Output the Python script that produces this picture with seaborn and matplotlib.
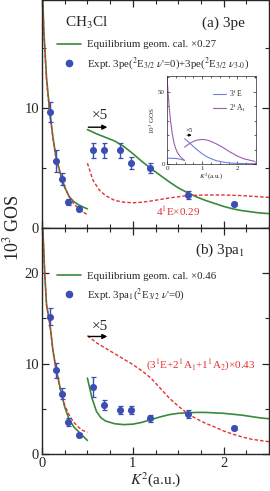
import numpy as np
import matplotlib
matplotlib.use("Agg")
import matplotlib.pyplot as plt
from matplotlib.ticker import MultipleLocator
from matplotlib.lines import Line2D
import seaborn as sns

sns.set_style("ticks")
plt.rcParams['font.family'] = ['Liberation Serif', 'DejaVu Serif']
plt.rcParams['mathtext.fontset'] = 'stix'

GREEN = '#3a8a3a'
BLUE = '#3b4fb3'
RED = '#e23232'
IBLUE = '#7080dd'
IPURP = '#9b5fae'

# ---------- panel (a) 3pe ----------
a_x = [0.084, 0.15, 0.22, 0.29, 0.41, 0.557, 0.68, 0.854, 0.98, 1.19, 1.61, 2.12]
a_y = [9.67, 5.6, 4.1, 2.2, 1.6, 6.47, 6.47, 6.47, 5.45, 5.0, 2.75, 2.0]
a_err = [0.85, 0.9, 0.5, 0.25, 0.2, 0.6, 0.6, 0.6, 0.5, 0.45, 0.35, 0.2]

a_low_x = [0.0, 0.02, 0.05, 0.084, 0.12, 0.15, 0.2, 0.25, 0.3, 0.35, 0.41, 0.45, 0.5]
a_gl_y = [21, 16.5, 12.5, 9.8, 7.6, 6.1, 4.6, 3.4, 2.6, 2.2, 1.9, 1.75, 1.6]
a_rl_y = [21, 16.3, 12.3, 9.7, 7.5, 6.0, 4.5, 3.4, 2.6, 2.0, 1.6, 1.35, 1.1]

a_gh_x = [0.5, 0.6, 0.7, 0.8, 0.9, 1.0, 1.1, 1.2, 1.3, 1.4, 1.5, 1.6, 1.7, 1.8, 1.9,
          2.0, 2.1, 2.2, 2.3, 2.4, 2.5]
a_gh_y = [8.2, 7.85, 7.55, 7.25, 6.8, 6.2, 5.55, 4.95, 4.4, 3.85, 3.35, 2.95, 2.6, 2.3,
          2.05, 1.8, 1.6, 1.45, 1.35, 1.25, 1.2]
a_rh_x = [0.5, 0.56, 0.63, 0.7, 0.8, 0.9, 1.0, 1.1, 1.2, 1.4, 1.6, 1.8, 2.0, 2.2, 2.4, 2.5]
a_rh_y = [5.4, 4.0, 3.17, 2.7, 2.3, 2.15, 2.1, 2.15, 2.25, 2.5, 2.7, 2.75, 2.75, 2.7, 2.6, 2.55]

# ---------- inset ----------
i_pl_x = [0, 0.03, 0.06, 0.1, 0.15, 0.2, 0.25, 0.3, 0.35, 0.4, 0.45, 0.5]
i_pl_y = [60, 50, 40, 30, 21, 14.5, 10.5, 7.8, 6, 4.6, 3.5, 2.4]
i_h_x = [0.5, 0.6, 0.7, 0.8, 0.9, 1.0, 1.1, 1.2, 1.4, 1.6, 1.8, 2.0, 2.2, 2.5]
i_ph_y = [11.7, 13.5, 15, 16.2, 16.8, 17, 16.8, 16.2, 14, 11.3, 8.2, 5.5, 3.5, 1.8]
i_bl_x = [0, 0.1, 0.2, 0.3, 0.4, 0.5]
i_bl_y = [4, 4, 3.9, 3.7, 3.2, 2.5]
i_bh_y = [17.6, 15.5, 13.3, 11, 9, 7.1, 5.5, 4.2, 2.3, 1.3, 0.7, 0.4, 0.3, 0.2]

# ---------- panel (b) 3pa1 ----------
b_x = [0.088, 0.15, 0.22, 0.29, 0.41, 0.557, 0.68, 0.854, 0.98, 1.19, 1.61, 2.12]
b_y = [15.2, 9.26, 6.68, 3.5, 2.1, 7.45, 5.42, 4.9, 4.9, 3.95, 4.43, 2.88]
b_err = [0.96, 0.8, 0.6, 0.45, 0.2, 1.1, 0.5, 0.45, 0.45, 0.4, 0.4, 0.2]

b_low_x = [0.0, 0.03, 0.05, 0.088, 0.12, 0.15, 0.2, 0.25, 0.3, 0.35, 0.41, 0.45, 0.5]
b_gl_y = [27, 20, 16.5, 14.3, 11.5, 9.7, 7.3, 5.2, 3.8, 3.0, 2.4, 2.0, 1.5]
b_rl_y = [27, 20, 16.5, 14.3, 11.4, 9.6, 7.2, 5.4, 4.3, 3.5, 2.9, 2.6, 2.4]

b_gh_x = [0.5, 0.55, 0.6, 0.65, 0.7, 0.8, 0.9, 1.0, 1.1, 1.2, 1.3, 1.4, 1.5, 1.6, 1.7,
          1.8, 1.9, 2.0, 2.1, 2.2, 2.3, 2.4, 2.5]
b_gh_y = [8.4, 6.2, 4.7, 4.0, 3.65, 3.35, 3.25, 3.3, 3.5, 3.8, 4.1, 4.35, 4.5, 4.55, 4.6,
          4.6, 4.55, 4.5, 4.4, 4.3, 4.15, 4.0, 3.9]
b_rh_x = [0.5, 0.6, 0.7, 0.8, 0.9, 1.0, 1.1, 1.2, 1.3, 1.4, 1.5, 1.6, 1.7, 1.8, 1.9, 2.0,
          2.1, 2.2, 2.3, 2.4, 2.5]
b_rh_y = [13.1, 12.3, 11.7, 11.1, 10.5, 9.9, 9.2, 8.4, 7.3, 6.2, 5.3, 4.5, 3.9, 3.4, 3.0,
          2.55, 2.2, 1.9, 1.65, 1.5, 1.36]

W, H = 270, 491
fig = plt.figure(figsize=(W / 100, H / 100), dpi=100)
ax1 = fig.add_axes([42 / W, 1 - 228 / H, 227 / W, 228 / H])
ax2 = fig.add_axes([42 / W, 1 - 454 / H, 227 / W, 226 / H])


def style(ax, ymax, ymaj, labels_x):
    ax.set_xlim(0, 2.5)
    ax.set_ylim(0, ymax)
    ax.xaxis.set_major_locator(MultipleLocator(1))
    ax.xaxis.set_minor_locator(MultipleLocator(0.25))
    ax.yaxis.set_major_locator(MultipleLocator(ymaj))
    ax.yaxis.set_minor_locator(MultipleLocator(5))
    ax.tick_params(which='both', direction='in', top=True, right=True, labelsize=10.5,
                   pad=2)
    ax.tick_params(which='major', length=5, width=0.9)
    ax.tick_params(which='minor', length=3, width=0.8)
    if not labels_x:
        ax.tick_params(labelbottom=False)
    for s in ax.spines.values():
        s.set_linewidth(1.0)
        s.set_visible(True)


def curves(ax, lx, gl, rl, ghx, ghy, rhx, rhy):
    sns.lineplot(x=lx, y=gl, ax=ax, color=GREEN, lw=1.2, sort=False)
    sns.lineplot(x=lx, y=rl, ax=ax, color=RED, lw=1.0, ls=(0, (2.5, 1.5)), sort=False)
    sns.lineplot(x=ghx, y=ghy, ax=ax, color=GREEN, lw=1.2, sort=False)
    sns.lineplot(x=rhx, y=rhy, ax=ax, color=RED, lw=1.0, ls=(0, (2.5, 1.5)), sort=False)


def points(ax, x, y, e):
    ax.errorbar(x, y, yerr=e, fmt='none', ecolor=BLUE, elinewidth=1.0, capsize=1.8,
                capthick=0.9, zorder=4)
    sns.scatterplot(x=x, y=y, ax=ax, color=BLUE, s=26, edgecolor=BLUE, linewidth=0,
                    zorder=5)


# panel a
curves(ax1, a_low_x, a_gl_y, a_rl_y, a_gh_x, a_gh_y, a_rh_x, a_rh_y)
points(ax1, a_x, a_y, a_err)
style(ax1, 19, 10, False)
ax1.text(0.10, 0.9, r"CH$_3$Cl", transform=ax1.transAxes, fontsize=11, va='center')
ax1.text(0.895, 0.9, "(a) 3pe", transform=ax1.transAxes, fontsize=11, va='center',
         ha='right')
ax1.annotate('', xy=(0.75, 8.4), xytext=(0.48, 8.4),
             arrowprops=dict(arrowstyle='-|>', color='k', lw=1.0, mutation_scale=7))
ax1.text(0.55, 9.4, "×5", fontsize=11, va='center', ha='left')
ax1.text(1.26, 1.4, r"4$^1$E×0.29", color=RED, fontsize=8, va='center', ha='left')
h1 = [Line2D([], [], color=GREEN, lw=1.2),
      Line2D([], [], color=BLUE, marker='o', ls='none', ms=4.5)]
ax1.legend(h1, ["Equilibrium geom. cal. ×0.27",
                r"Expt. 3pe($^2$E$_{3/2}$ $\nu$'=0)+3pe($^2$E$_{3/2}$ $\nu_{3\text{-}0}$)"],
           loc='upper left', bbox_to_anchor=(0.066, 0.825), frameon=False, fontsize=7.8,
           borderpad=0, borderaxespad=0, handlelength=2.25, handletextpad=0.55,
           labelspacing=0.55)

# inset
axi = fig.add_axes([167 / W, 1 - 164 / H, 89 / W, 88 / H])
sns.lineplot(x=i_pl_x, y=i_pl_y, ax=axi, color=IPURP, lw=0.8, sort=False)
sns.lineplot(x=i_h_x, y=i_ph_y, ax=axi, color=IPURP, lw=0.8, sort=False)
sns.lineplot(x=i_bl_x, y=i_bl_y, ax=axi, color=IBLUE, lw=0.8, sort=False)
sns.lineplot(x=i_h_x, y=i_bh_y, ax=axi, color=IBLUE, lw=0.8, sort=False)
axi.set_xlim(0, 2.53)
axi.set_ylim(0, 61)
axi.xaxis.set_major_locator(MultipleLocator(1))
axi.xaxis.set_minor_locator(MultipleLocator(0.25))
axi.yaxis.set_major_locator(MultipleLocator(50))
axi.yaxis.set_minor_locator(MultipleLocator(10))
axi.tick_params(which='both', direction='in', top=True, right=True, labelsize=5, pad=1.5,
                width=0.5)
axi.tick_params(which='major', length=2.5)
axi.tick_params(which='minor', length=1.5)
for s in axi.spines.values():
    s.set_linewidth(0.5)
    s.set_visible(True)
axi.set_xlabel(r"$K^2$(a.u.)", fontsize=5, labelpad=0.5)
axi.set_ylabel(r"10$^3$ GOS", fontsize=5, labelpad=1)
axi.annotate('', xy=(0.78, 20), xytext=(0.49, 20),
             arrowprops=dict(arrowstyle='-|>', color='k', lw=0.6, mutation_scale=4))
axi.text(0.52, 23.5, "×5", fontsize=5, va='center', ha='left')
hi = [Line2D([], [], color=IBLUE, lw=0.8), Line2D([], [], color=IPURP, lw=0.8)]
axi.legend(hi, [r"3$^1$E", r"2$^1$A$_1$"], loc='upper left', bbox_to_anchor=(0.52, 0.87),
           frameon=False, fontsize=5.5, borderpad=0, borderaxespad=0, handlelength=1.6,
           handletextpad=0.4, labelspacing=0.3)

# panel b
curves(ax2, b_low_x, b_gl_y, b_rl_y, b_gh_x, b_gh_y, b_rh_x, b_rh_y)
points(ax2, b_x, b_y, b_err)
style(ax2, 25, 10, True)
ax2.text(0.895, 0.9, r"(b) 3pa$_1$", transform=ax2.transAxes, fontsize=11, va='center',
         ha='right')
ax2.annotate('', xy=(0.75, 13.0), xytext=(0.48, 13.0),
             arrowprops=dict(arrowstyle='-|>', color='k', lw=1.0, mutation_scale=7))
ax2.text(0.55, 14.1, "×5", fontsize=11, va='center', ha='left')
ax2.text(1.15, 9.8, r"(3$^1$E+2$^1$A$_1$+1$^1$A$_2$)×0.43", color=RED, fontsize=8,
         va='center', ha='left')
h2 = [Line2D([], [], color=GREEN, lw=1.2),
      Line2D([], [], color=BLUE, marker='o', ls='none', ms=4.5)]
ax2.legend(h2, ["Equilibrium geom. cal. ×0.46",
                r"Expt. 3pa$_1$($^2$E$_{3/2}$ $\nu$'=0)"],
           loc='upper left', bbox_to_anchor=(0.066, 0.81), frameon=False, fontsize=7.8,
           borderpad=0, borderaxespad=0, handlelength=2.25, handletextpad=0.55,
           labelspacing=0.55)
ax2.set_xlabel(r"$K^2$(a.u.)", fontsize=11, labelpad=0)

fig.text(12 / W, 1 - 228 / H, r"10$^3$ GOS", rotation=90, fontsize=13, ha='center',
         va='center')

fig.savefig("out.png", dpi=100)
